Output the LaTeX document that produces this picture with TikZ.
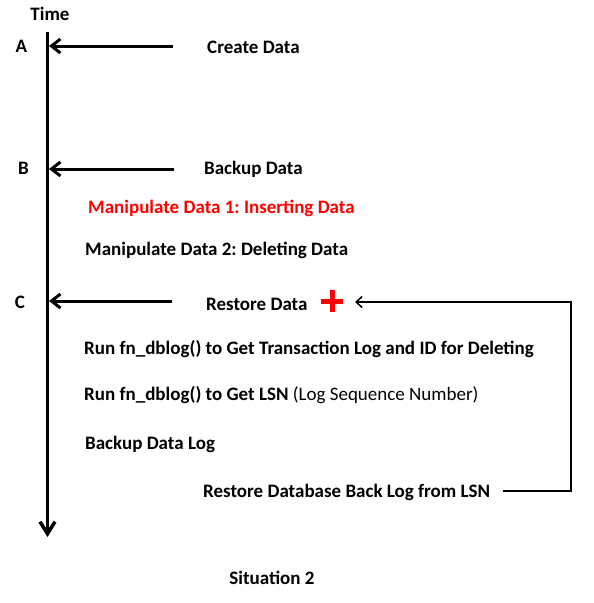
\documentclass[tikz,border=0pt]{standalone}
\usepackage{fontspec}
\setmainfont{Carlito}
\usetikzlibrary{arrows.meta}
\tikzset{
  lbl/.style={font=\fontsize{19}{21}\selectfont\bfseries\frenchspacing, inner sep=0pt},
  thick arrow/.style={line width=3pt, -{Straight Barb[length=9pt,width=14pt,line width=3pt]}},
  down arrow/.style={line width=3.5pt, -{Straight Barb[length=12pt,width=15pt,line width=3.5pt]}},
  thin line/.style={line width=1.5pt},
}
\begin{document}
\begin{tikzpicture}[x=1pt,y=-1pt]
\useasboundingbox (0,0) rectangle (594,603);
% timeline
\coordinate (top) at (47.5,32);
\coordinate (bot) at (47.5,537);
\draw[down arrow] (top) -- (bot);
\node[lbl, anchor=base] (time) at (50,20) {Time};
% letters
\node[lbl, anchor=base] (A) at (21.5,52) {A};
\node[lbl, anchor=base] (B) at (23.5,174) {B};
\node[lbl, anchor=base] (C) at (20,308) {C};
% arrow ends
\coordinate (a0) at (173,46);
\coordinate (a1) at (49,46);
\coordinate (b0) at (174,169);
\coordinate (b1) at (49,169);
\coordinate (c0) at (172,301);
\coordinate (c1) at (49,301);
\draw[thick arrow] (a0) -- (a1);
\draw[thick arrow] (b0) -- (b1);
\draw[thick arrow] (c0) -- (c1);
% labels
\node[lbl, anchor=base west] (create) at (207,53) {Create Data};
\node[lbl, anchor=base west] (backup) at (204,174) {Backup Data};
\node[lbl, anchor=base west, text=red] (man1) at (88,213) {Manipulate Data 1: Inserting Data};
\node[lbl, anchor=base west] (man2) at (85,255) {Manipulate Data 2: Deleting Data};
\node[lbl, anchor=base west] (restore) at (206,310) {Restore Data};
\node[lbl, anchor=base west] (run1) at (84,354) {Run fn\_dblog() to Get Transaction Log and ID for Deleting};
\node[lbl, anchor=base west] (run2) at (84,400) {Run fn\_dblog() to Get LSN \mdseries(Log Sequence Number)};
\node[lbl, anchor=base west] (bdl) at (85,449) {Backup Data Log};
\node[lbl, anchor=base west] (rdb) at (203,497) {Restore Database Back Log from LSN};
\node[lbl, anchor=base] (sit) at (272,584) {Situation 2};
% red plus
\node[inner sep=0pt, minimum size=21pt] (plus) at (332,301) {};
\draw[red, line width=5pt] (plus.west) -- (plus.east) (plus.north) -- (plus.south);
% feedback connector
\coordinate (r0) at (503,491);
\coordinate (r1) at (571,491);
\coordinate (r2) at (571,302);
\coordinate (r3) at (355,302);
\draw[thin line, -{Straight Barb[length=6pt,width=11pt,line width=1.5pt]}] (r0) -- (r1) -- (r2) -- (r3);
\end{tikzpicture}
\end{document}
